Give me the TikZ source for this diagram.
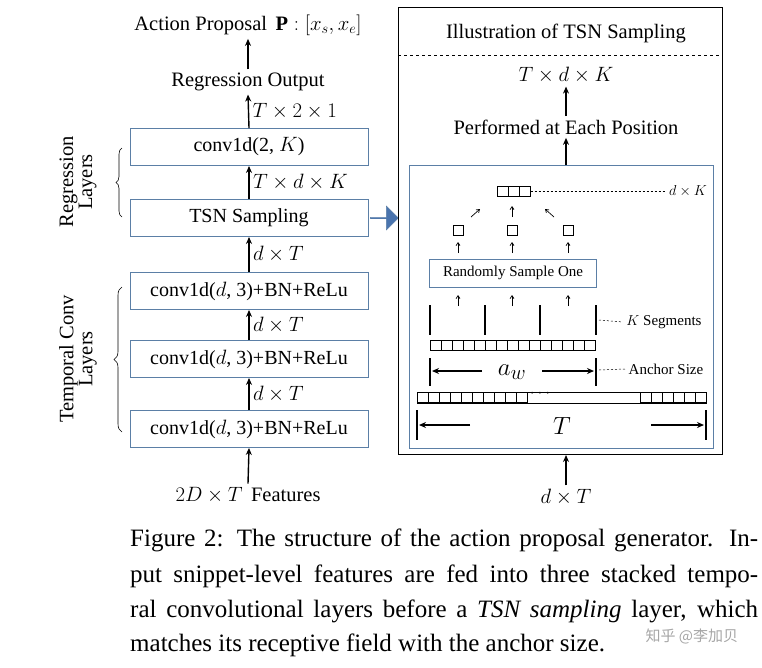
\documentclass[tikz,border=0pt]{standalone}
\usepackage{fontspec}
\setmainfont{Liberation Serif}
\newfontfamily\cjk{Noto Sans CJK SC}
\usetikzlibrary{arrows.meta,decorations.pathreplacing,shapes.arrows}
\begin{document}
\begin{tikzpicture}[x=1pt,y=-1pt,
  box/.style={draw=boxc,line width=0.9pt,minimum width=238pt,minimum height=37pt,font=\fontsize{20}{22}\selectfont,inner sep=0pt},
  ar/.style={-{Stealth[length=7pt,width=6pt]},line width=1.4pt},
  sa/.style={-{Straight Barb[length=3pt,width=4pt]},line width=0.7pt},
  lab/.style={font=\fontsize{20.5}{23}\selectfont},
  sm/.style={font=\fontsize{15}{17}\selectfont},
  cell/.style={draw,line width=1pt,minimum width=11pt,minimum height=10pt,inner sep=0pt},
  dsh/.style={dashed,line width=0.5pt,dash pattern=on 2pt off 2pt},
  capt/.style={anchor=west,inner sep=0pt,font=\fontsize{25}{28}\selectfont}]
\definecolor{boxc}{HTML}{5B7FA6}
\definecolor{barrow}{HTML}{4A74AE}
\useasboundingbox (0,0) rectangle (762,667);
% left column
\node[lab] (ap) at (248,25) {Action Proposal \,$\mathbf{P}:[x_s,x_e]$};
\node[lab] (ro) at (248,82) {Regression Output};
\node[box] (c2) at (249,147) {conv1d(2, $K$)};
\node[box] (tsn) at (249,218) {TSN Sampling};
\node[box] (b1) at (249,291) {conv1d($d$, 3)+BN+ReLu};
\node[box] (b2) at (249,359) {conv1d($d$, 3)+BN+ReLu};
\node[box] (b3) at (249,429) {conv1d($d$, 3)+BN+ReLu};
\node[lab] (feat) at (248,495) {$2D\times T$ \,Features};
\draw[ar] (ro.north) -- (ap.south);
\draw[ar] (c2.north) -- node[right,lab]{$T\times2\times1$} (ro.south);
\draw[ar] (tsn.north) -- node[right,lab]{$T\times d\times K$} (c2.south);
\draw[ar] (b1.north) -- node[right,lab]{$d\times T$} (tsn.south);
\draw[ar] (b2.north) -- node[right,lab]{$d\times T$} (b1.south);
\draw[ar] (b3.north) -- node[right,lab]{$d\times T$} (b2.south);
\draw[ar] (feat.north) -- (b3.south);
\coordinate (rb1) at (122,148); \coordinate (rb2) at (122,217);
\draw[decorate,decoration={brace,amplitude=6pt},line width=0.6pt] (rb2) -- (rb1);
\node[lab,rotate=90,align=center] (rl) at (78,182) {Regression\\[-4pt]Layers};
\coordinate (tb1) at (122,287); \coordinate (tb2) at (122,432);
\draw[decorate,decoration={brace,amplitude=8pt},line width=0.6pt] (tb2) -- (tb1);
\node[lab,rotate=90,align=center] (tl) at (78,359) {Temporal Conv\\[-4pt]Layers};
\node[single arrow,fill=barrow,draw=boxc,minimum height=28pt,minimum width=24pt,single arrow head extend=3pt,inner sep=0pt] (bar) at (384,218) {};
% right panel
\node[draw,line width=1pt,minimum width=324pt,minimum height=447pt,inner sep=0pt] (outer) at (560,231) {};
\node[lab] (title) at (566,33) {Illustration of TSN Sampling};
\draw[dashed,line width=0.7pt] (398,55) -- (722,55);
\node[lab] (tdk) at (566,75) {$T\times d\times K$};
\node[lab] (pep) at (566,127) {Performed at Each Position};
\node[draw=boxc,line width=1pt,minimum width=304pt,minimum height=283pt,inner sep=0pt] (inner) at (561,307) {};
\draw[ar] (pep.north) -- (tdk.south);
\draw[ar] (pep.south |- inner.north) -- (pep.south);
\node[lab] (dt) at (566,497) {$d\times T$};
\draw[ar] (dt.north) -- (dt.north |- outer.south);
% top cells
\foreach \i in {0,1,2}{\node[cell] (t\i) at (502.5+11*\i,191) {};}
\node[sm] (dk) at (688,191) {$d\times K$};
\draw[dsh] (t2.east) -- (dk.west);
\foreach \x/\n in {458/a,512/b,568/c}{\node[draw,line width=1pt,minimum size=10pt,inner sep=0pt] (s\n) at (\x,230) {};}
\coordinate (da1) at (471,217); \coordinate (da2) at (480,209);
\coordinate (db1) at (512,217); \coordinate (db2) at (512,206);
\coordinate (dc1) at (554,217); \coordinate (dc2) at (545,209);
\draw[sa] (da1) -- (da2);
\draw[sa] (db1) -- (db2);
\draw[sa] (dc1) -- (dc2);
\node[draw=boxc,line width=0.8pt,minimum width=167pt,minimum height=28pt,sm] (rs) at (513,273) {Randomly Sample One};
\foreach \n/\x in {a/458,b/512,c/568}{
  \coordinate (u\n) at (\x,253); \coordinate (v\n) at (\x,242);
  \draw[sa] (u\n) -- (v\n);
  \coordinate (w\n) at (\x,306); \coordinate (z\n) at (\x,295);
  \draw[sa] (w\n) -- (z\n);}
\foreach \x in {430,485,540,596}{\draw[line width=1.6pt] (\x,305) -- (\x,335);}
\node[sm] (ks) at (664,322) {$K$ Segments};
\coordinate (ksd) at (599,320);
\draw[dsh] (ksd) -- (ks.west);
\foreach \i in {0,...,14}{\node[cell] (m\i) at (435.5+11*\i,345) {};}
\draw[line width=1.6pt] (430,358) -- (430,386);
\draw[line width=1.6pt] (596,358) -- (596,386);
\node[font=\fontsize{28}{30}\selectfont] (aw) at (512,372) {$a_w$};
\coordinate (al) at (432,371); \coordinate (arr) at (594,371);
\coordinate (al0) at (482,371); \coordinate (ar0) at (542,371);
\draw[ar] (al0) -- (al);
\draw[ar] (ar0) -- (arr);
\node[sm] (as) at (666,369) {Anchor Size};
\coordinate (asd) at (599,370);
\draw[dsh] (asd) -- (as.west);
\draw[line width=1pt] (417,392) rectangle (706,403);
\foreach \i in {0,...,9}{\node[cell] (l\i) at (422.5+11*\i,397.5) {};}
\foreach \i in {0,...,5}{\node[cell] (r\i) at (645.5+11*\i,397.5) {};}
\node[font=\bfseries\fontsize{16}{18}\selectfont] (dots) at (540,394) {$\cdots$};
\draw[line width=1.6pt] (417,410) -- (417,440);
\draw[line width=1.6pt] (706,410) -- (706,440);
\node[font=\fontsize{24}{26}\selectfont] (T) at (562,426) {$T$};
\coordinate (tl1) at (470,425); \coordinate (tl2) at (419,425);
\coordinate (tr1) at (651,425); \coordinate (tr2) at (704,425);
\draw[ar] (tl1) -- (tl2);
\draw[ar] (tr1) -- (tr2);
% caption
\node[capt] (c1) at (130,540) {\makebox[628pt][s]{Figure 2: The structure of the action proposal generator. In-}};
\node[capt] (c2l) at (130,576) {\makebox[628pt][s]{put snippet-level features are fed into three stacked tempo-}};
\node[capt] (c3) at (130,611) {\makebox[628pt][s]{ral convolutional layers before a \textit{TSN sampling} layer, which}};
\node[capt] (c4) at (130,645) {matches its receptive field with the anchor size.};
\node[anchor=west,text=gray!70,font=\cjk\fontsize{15}{17}\selectfont] (wm) at (642,636) {知乎 @李加贝};
\end{tikzpicture}
\end{document}
